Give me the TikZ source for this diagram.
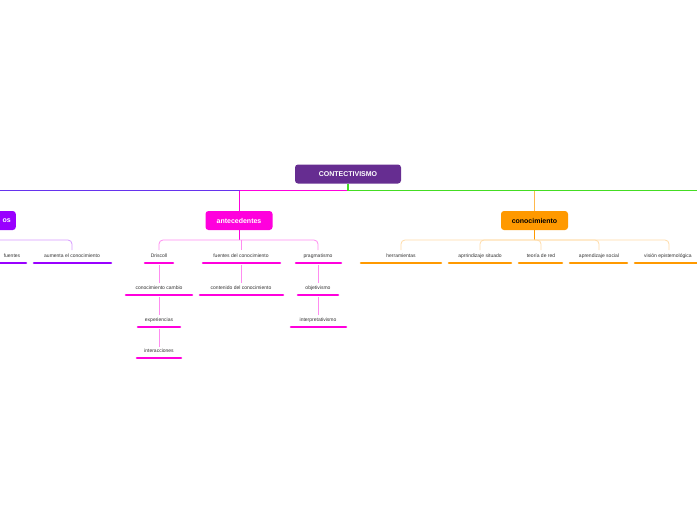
\documentclass[tikz,border=0pt]{standalone}
\usepackage{fontspec}
\setmainfont{Liberation Sans}
\begin{document}
\begin{tikzpicture}[x=1pt,y=-1pt,
 box/.style={rounded corners=3pt,inner sep=0pt,minimum height=19pt,font=\fontsize{7}{8}\selectfont\bfseries},
 lab/.style={font=\fontsize{5}{6}\selectfont,text=black!80,inner sep=0pt},
 ul/.style={line width=2.6pt,line cap=round},
 br/.style={line width=0.8pt,rounded corners=4pt}]
\definecolor{rootc}{HTML}{662D91}\definecolor{purp}{HTML}{9900FF}
\definecolor{mag}{HTML}{FF00DD}\definecolor{ora}{HTML}{FF9900}
\definecolor{grn}{HTML}{44DD22}\definecolor{blu}{HTML}{6633EE}
\useasboundingbox (0,0) rectangle (697,520);
% main line
\draw[line width=0.9pt,blu] (0,190.5) -- (240,190.5);
\draw[line width=0.9pt,mag] (240,190.5) -- (348,190.5);
\draw[line width=0.9pt,grn] (348,190.5) -- (697,190.5);
\node[box,fill=rootc,text=white,minimum width=106pt] (root) at (348,174) {CONTECTIVISMO};
\draw[grn,line width=1.2pt] (root.south) -- (348,190.5);
% left
\node[box,fill=purp,text=white,minimum width=30pt,anchor=east] (os) at (16,220.5) {\hspace*{12pt}os};
\draw[br,purp!40] (0,240) -| (72,250);
\node[lab] (f) at (12,256) {fuentes};
\draw[ul,purp] (0,263) -- (26,263);
\node[lab] (au) at (72,256) {aumenta el conocimiento};
\draw[ul,purp] (34,263) -- (111,263);
% antecedentes
\node[box,fill=mag,text=white,minimum width=67pt] (ant) at (239,220.5) {antecedentes};
\draw[br,mag] (239,190.5) -- (ant.north);
\draw[mag,line width=0.8pt] (ant.south) -- (239,240);
\draw[br,mag!45] (159,250) |- (318,240) -- (318,250);
\draw[mag!45,line width=0.8pt] (241,240) -- (241,250);
\foreach \n/\x/\y/\a/\b/\t in {d/159/256/145/173/Driscoll, fc/241/256/203/280/fuentes del conocimiento, pr/318/256/296/341/pragmatismo,
 cc/159/288/126/192/conocimiento cambio, cd/241/288/200/283/contenido del conocimiento, ob/318/288/298/338/objetivismo,
 ex/159/320/138/180/experiencias, ip/318/320/291/346/interpretativismo, ia/159/351/137/181/interacciones}{
 \node[lab] (\n) at (\x,\y) {\t};
 \draw[ul,mag] (\a,\y+7) -- (\b,\y+7);}
\foreach \x/\y in {159/264,159/296,159/328,241/264,318/264,318/296}{\draw[mag!45,line width=0.8pt] (\x,\y+1) -- (\x,\y+19);}
% conocimiento
\node[box,fill=ora,text=black,minimum width=67pt] (con) at (534.5,220.5) {conocimiento};
\draw[br,ora!70] (534.5,190.5) -- (con.north);
\draw[ora,line width=0.8pt] (con.south) -- (534.5,240);
\draw[br,ora!35] (401,250) |- (669,240) -- (669,250);
\foreach \x in {480,541,599}{\draw[br,ora!35] (534.5,240) -| (\x,250);}
\foreach \n/\x/\a/\b/\t in {h/401/361/441/herramientas/habilidades, as/480/449/511/aprrindizaje situado, tr/541/519/562/teoría de red, aso/599/570/627/aprendizaje social, ve/668/635/697/visión epistemológica}{
 \node[lab] (\n) at (\x,256) {\t};
 \draw[ul,ora] (\a,263) -- (\b,263);}
\end{tikzpicture}
\end{document}
